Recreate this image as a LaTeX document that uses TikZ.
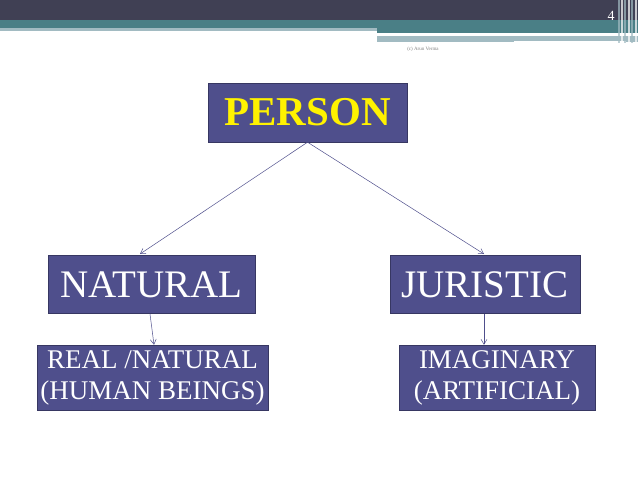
\documentclass[tikz,border=0pt]{standalone}
\usepackage{fontspec}
\setmainfont{Liberation Serif}
\definecolor{boxc}{HTML}{4F4F8C}
\definecolor{darkbar}{HTML}{404054}
\definecolor{tealbar}{HTML}{4A7F86}
\definecolor{lightbar}{HTML}{A2BBC2}
\tikzset{box/.style={draw=boxc!70!black,fill=boxc,text=white,inner sep=0pt,align=center,font=\fontsize{#1}{#1}\selectfont},
conn/.style={draw=boxc,-{Straight Barb[length=5pt,width=6pt]},line width=0.5pt}}
\usetikzlibrary{arrows.meta}
\begin{document}
\begin{tikzpicture}[x=1pt,y=-1pt]
\useasboundingbox (0,0) rectangle (638,479);
\fill[white] (0,0) rectangle (638,479);
\fill[darkbar] (0,0) rectangle (638,20);
\fill[tealbar] (0,20) rectangle (638,28);
\fill[lightbar] (0,28) rectangle (377,31);
\fill[tealbar] (377,28) rectangle (638,33);
\fill[white] (377,34) rectangle (590,36);
\fill[lightbar] (377,36) rectangle (638,42);
\fill[white] (514,41) rectangle (626,43);
\foreach \x/\c in {618/lightbar,621/white,624/lightbar,628/white,631/lightbar,635/white}
  \fill[\c,opacity=0.7] (\x,0) rectangle ++(2,43);
\node[text=white,font=\fontsize{14}{14}\selectfont] at (611,16) {4};
\node[text=gray,font=\fontsize{5}{5}\selectfont] at (423,49) {(c) Arun Verma};
\node[box=41,minimum width=199,minimum height=59,text=yellow,font=\fontsize{41}{41}\selectfont\bfseries] (p) at (307.5,112.5) {PERSON};
\node[box=39,minimum width=207,minimum height=58] (n) at (151.5,284.5) {NATURAL};
\node[box=39,minimum width=190,minimum height=58] (j) at (485,284.5) {JURISTIC};
\node[box=27,minimum width=231,minimum height=65] (r) at (152.5,377.5) {REAL /NATURAL\\[4pt](HUMAN BEINGS)};
\node[box=27,minimum width=196,minimum height=65] (i) at (497,377.5) {IMAGINARY\\[4pt](ARTIFICIAL)};
\draw[conn] (p.south) -- (140,254);
\draw[conn] (p.south) -- (484,254);
\draw[conn] (150,314) -- (r.north -| 154,0);
\draw[conn] (484,314) -- (r.north -| 484,0);
\end{tikzpicture}
\end{document}
